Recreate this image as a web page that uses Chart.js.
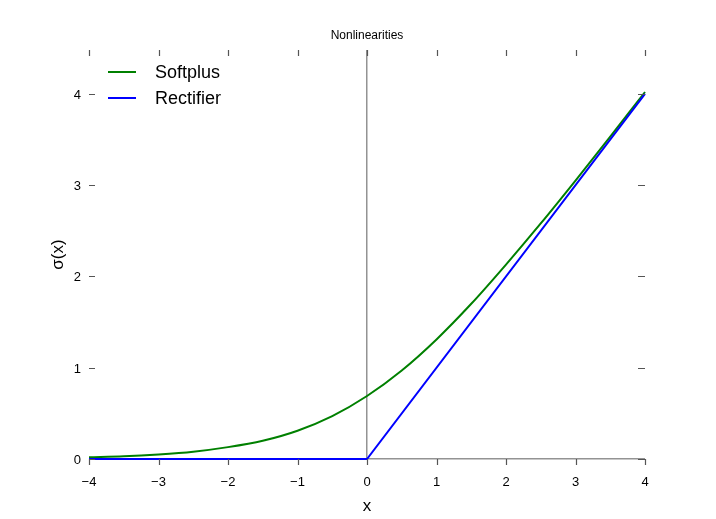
<!DOCTYPE html>
<html>
<head>
<meta charset="utf-8">
<title>Nonlinearities</title>
<script src="https://cdn.jsdelivr.net/npm/chart.js@4/dist/chart.umd.min.js"></script>
<style>
  html, body { margin: 0; padding: 0; background: #fff; }
  #wrap { width: 716px; height: 519px; position: relative; }
</style>
</head>
<body>
<div id="wrap"><canvas id="chart"></canvas></div>
<script>
// values
const softX = [-4, -3.5, -3, -2.5, -2, -1.5, -1, -0.5, 0, 0.5, 1, 1.5, 2, 2.5, 3, 3.5, 4];
const softY = [0.02, 0.03, 0.05, 0.08, 0.13, 0.2, 0.31, 0.47, 0.69, 0.97, 1.31, 1.7, 2.13, 2.58, 3.05, 3.53, 4.02];
const reluX = [-4, 0, 4];
const reluY = [0, 0, 4];
const xTicks = [-4, -3, -2, -1, 0, 1, 2, 3, 4];
const yTicks = [0, 1, 2, 3, 4];

const toPoints = (xs, ys) => xs.map((x, i) => ({ x, y: ys[i] }));

Chart.defaults.font.family = '"Liberation Sans", Arial, sans-serif';
Chart.defaults.color = '#000';

// little tick marks on all four sides, plus the legend inside the plot
const frameTicks = {
  id: 'frameTicks',
  afterDraw(chart) {
    const { ctx, chartArea: a, scales } = chart;
    ctx.save();
    ctx.strokeStyle = '#555';
    ctx.lineWidth = 1.2;
    ctx.beginPath();
    for (const v of xTicks) {
      const px = Math.round(scales.x.getPixelForValue(v)) + 0.5;
      ctx.moveTo(px, a.top); ctx.lineTo(px, a.top + 6);
      ctx.moveTo(px, a.bottom); ctx.lineTo(px, a.bottom + 6);
    }
    for (const v of yTicks) {
      const py = Math.round(scales.y.getPixelForValue(v)) + 0.5;
      ctx.moveTo(a.left, py); ctx.lineTo(a.left + 6, py);
      ctx.moveTo(a.right - 7, py); ctx.lineTo(a.right, py);
    }
    ctx.stroke();

    // legend
    ctx.font = '18px "Liberation Sans", Arial, sans-serif';
    ctx.textBaseline = 'middle';
    ctx.textAlign = 'left';
    chart.data.datasets.forEach((ds, i) => {
      const y = a.top + 22 + i * 26;
      ctx.strokeStyle = ds.borderColor;
      ctx.lineWidth = 2;
      ctx.beginPath();
      ctx.moveTo(a.left + 19, y);
      ctx.lineTo(a.left + 47, y);
      ctx.stroke();
      ctx.fillStyle = '#000';
      ctx.fillText(ds.label, a.left + 66, y + 1);
    });
    ctx.restore();
  }
};

const zeroGrid = c => (c.tick && c.tick.value === 0 ? 'rgba(128,128,128,0.85)' : 'rgba(0,0,0,0)');

new Chart(document.getElementById('chart'), {
  type: 'scatter',
  data: {
    datasets: [
      {
        label: 'Softplus',
        data: toPoints(softX, softY),
        borderColor: '#008000',
        borderWidth: 2,
        showLine: true,
        pointRadius: 0,
        cubicInterpolationMode: 'monotone',
        clip: false,
        order: 1,
      },
      {
        label: 'Rectifier',
        data: toPoints(reluX, reluY),
        borderColor: '#0000ff',
        borderWidth: 2,
        showLine: true,
        pointRadius: 0,
        clip: false,
        order: 0,
      },
    ],
  },
  options: {
    responsive: true,
    maintainAspectRatio: false,
    animation: false,
    layout: { padding: { top: 0, right: 71, bottom: 0, left: 0 } },
    plugins: {
      legend: { display: false },
      tooltip: { enabled: false },
      title: {
        display: true,
        text: 'Nonlinearities',
        fullSize: false,
        font: { size: 12, weight: 'normal' },
        color: '#000',
        padding: { top: 28.8, bottom: 6.8 },
      },
    },
    scales: {
      x: {
        type: 'linear',
        min: -4,
        max: 4,
        afterFit: s => { s.height = 60; },
        border: { display: false },
        grid: { color: zeroGrid, lineWidth: 1.5, drawTicks: false },
        ticks: {
          stepSize: 1,
          padding: 16,
          font: { size: 13 },
          color: '#000',
          callback: v => String(v).replace('-', '\u2212'),
        },
        title: { display: true, text: 'x', font: { size: 17 }, color: '#000', padding: { top: 0, bottom: 2 } },
      },
      y: {
        type: 'linear',
        min: 0,
        max: 4.48,
        afterFit: s => { s.width = 89; },
        border: { display: false },
        grid: { color: zeroGrid, lineWidth: 1.5, drawTicks: false },
        ticks: { stepSize: 1, includeBounds: false, padding: 8, labelOffset: 1.5, font: { size: 13 }, color: '#000' },
        title: { display: true, text: '\u03c3(x)', font: { size: 17 }, color: '#000', padding: { top: 48, bottom: 0 } },
      },
    },
  },
  plugins: [frameTicks],
});
</script>
</body>
</html>
